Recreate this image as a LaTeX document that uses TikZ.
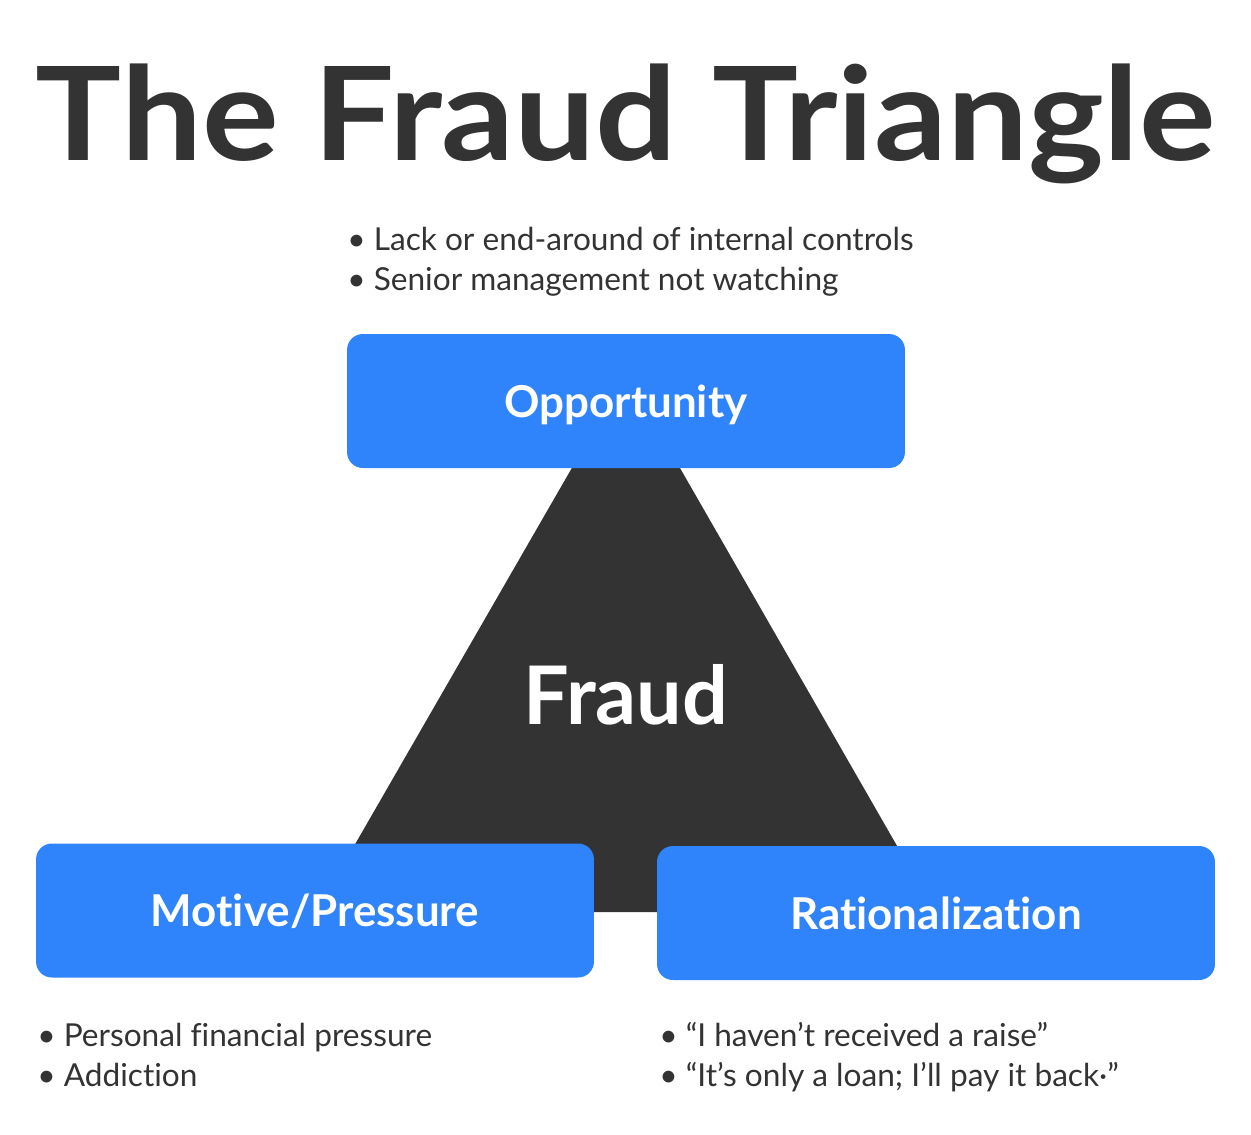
\documentclass[tikz,border=0pt]{standalone}
\usepackage{fontspec}
\setmainfont{Lato}[Ligatures=NoCommon]
\definecolor{fraudblue}{HTML}{2F84FC}
\definecolor{fraudgray}{HTML}{333333}

\begin{document}
\begin{tikzpicture}[x=0.02cm, y=-0.02cm,
  box/.style={fill=fraudblue, rounded corners=9pt, inner sep=0pt, text depth=0pt,
    minimum width=11.16cm, minimum height=2.68cm, text=white,
    font=\fontsize{25}{30}\selectfont\bfseries},
  bullets/.style={anchor=base west, align=left, inner sep=0pt, text=fraudgray,
    font=\fontsize{18}{22.5}\selectfont}]
  \useasboundingbox (0,0) rectangle (1251,1134);

  % Title
  \node[anchor=base, inner sep=0pt, text=fraudgray,
    font=\fontsize{74}{80}\selectfont\bfseries] (title) at (626,160)
    {\scalebox{1.105}[1]{The Fraud Triangle}};

  % Triangle behind the boxes
  \fill[fraudgray] (626,374) -- (316,912) -- (935,912) -- cycle;
  \node[anchor=base, inner sep=0pt, text=white,
    font=\fontsize{46}{50}\selectfont\bfseries] (fraud) at (626,724) {Fraud};

  % The three corners
  \node[box] (opp) at (626,401) {Opportunity};
  \node[box] (motive) at (315,910.5) {Motive/Pressure};
  \node[box] (ratio) at (936,913) {Rationalization};

  % Bullet lists (base = last line)
  \node[bullets] (oppnotes) at (347,290)
    {\textbullet\ Lack or end-around of internal controls\\
     \textbullet\ Senior management not watching};
  \node[bullets] (motivenotes) at (37,1086)
    {\textbullet\ Personal financial pressure\\
     \textbullet\ Addiction};
  \node[bullets] (rationotes) at (659,1086)
    {\textbullet\ “I haven’t received a raise”\\
     \textbullet\ “It’s only a loan; I’ll pay it back·”};
\end{tikzpicture}
\end{document}
